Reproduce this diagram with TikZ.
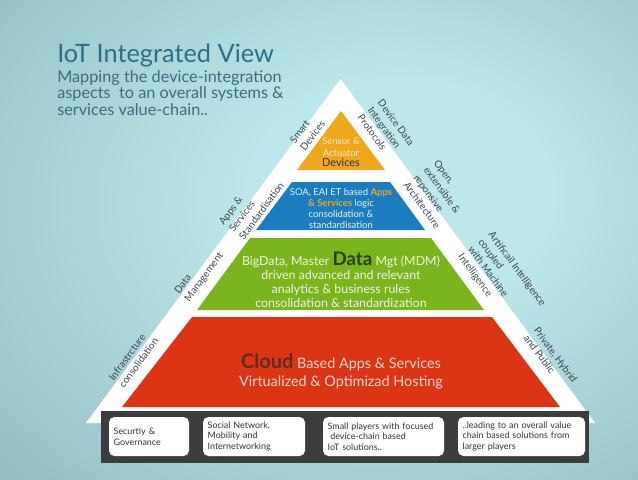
\documentclass[tikz,border=0pt]{standalone}
\usepackage{fontspec}
\setmainfont{Lato}
\hyphenpenalty=10000
\exhyphenpenalty=10000

\definecolor{bglight}{HTML}{BCE7EB}
\definecolor{bgmid}{HTML}{98C4C9}
\definecolor{bgdark}{HTML}{688F95}
\definecolor{titleblue}{HTML}{2F6E86}
\definecolor{subblue}{HTML}{3D6C7D}
\definecolor{labelgrey}{HTML}{3B4750}
\definecolor{tierorange}{HTML}{EFA71B}
\definecolor{tierblue}{HTML}{1C7CC0}
\definecolor{tiergreen}{HTML}{7AB51D}
\definecolor{tierred}{HTML}{DC3516}
\definecolor{barcolor}{HTML}{3C3C3C}

\pgfdeclareradialshading{bgglow}{\pgfpoint{8bp}{6bp}}{color(0bp)=(bglight); color(12bp)=(bglight); color(36bp)=(bgmid); color(60bp)=(bgdark)}

\tikzset{
	edgelabel/.style={font=\fontsize{7.5}{9.4}\selectfont, text=labelgrey, align=left, inner sep=0pt},
	leftlabel/.style={edgelabel, rotate=53.7, anchor=west},
	rightlabel/.style={edgelabel, rotate=-53.7, anchor=west},
	tiertext/.style={align=center, inner sep=0pt},
	infobox/.style={fill=white, rounded corners=4pt, align=left, inner xsep=3.5pt, inner ysep=0pt, minimum height=29.25pt, font=\fontsize{6.7}{7.9}\selectfont, text=black!80, anchor=center}
}

\begin{document}
\begin{tikzpicture}[x=0.75pt,y=-0.75pt]
			\shade[shading=bgglow] (0,0) rectangle (638,479);
			\useasboundingbox (0,0) rectangle (638,479);
			% heading
			\node[anchor=base west,inner sep=0pt,text=titleblue,font=\fontsize{19}{21}\selectfont] (title) at (57,62) {IoT Integrated View};
			\node[anchor=north west,inner sep=0pt,align=left,text=subblue,font=\fontsize{12.2}{12.3}\selectfont] (subtitle) at (57,70) {Mapping the device-integration\\aspects\ \ to an overall systems \&\\services value-chain..};
			% pyramid
			\fill[white] (340.5,79) -- (595,423) -- (86,423) -- cycle;
			\fill[tierorange] (341,111) -- (385,170) -- (297,170) -- cycle;
			\fill[tierblue] (292,182) -- (390,182) -- (425,230) -- (256,230) -- cycle;
			\fill[tiergreen] (250,238) -- (431,238) -- (484,310) -- (197,310) -- cycle;
			\fill[tierred] (192,317) -- (492,317) -- (560,407) -- (122,407) -- cycle;
			\node[tiertext,text=tierorange!25,font=\fontsize{7.1}{9}\selectfont] (sensor) at (341,147) {Sensor \&\\Actuator};
			\node[tiertext,text=black!80,font=\fontsize{8.2}{9}\selectfont] (devices) at (341,163) {Devices};
			\node[tiertext,text=white!90!tierblue,font=\fontsize{7.1}{8.25}\selectfont] (soa) at (341,208.5) {SOA, EAI ET based \textcolor{tierorange}{\bfseries Apps}\\\textcolor{tierorange}{\bfseries\& Services} logic\\consolidation \&\\standardisation};
			\node[tiertext,text=white!88!tiergreen,font=\fontsize{9.3}{10.5}\selectfont] (mdm) at (341,280) {BigData, Master \textcolor{tiergreen!35!black}{\fontsize{14}{10.5}\selectfont\bfseries Data} Mgt (MDM)\\driven advanced and relevant\\analytics \& business rules\\consolidation \& standardization};
			\node[tiertext,text=white!80!tierred,font=\fontsize{10.8}{13.5}\selectfont] (cloud) at (341,371) {\textcolor{tierred!40!black!80!gray}{\fontsize{15}{13.5}\selectfont\bfseries Cloud} Based Apps \& Services\\Virtualized \& Optimizad Hosting};
			% edge labels
			\node[leftlabel] (smart) at (297,146) {Smart\\Devices};
			\node[leftlabel] (appsstd) at (231,231) {Apps \&\\Services\\Standardisation};
			\node[leftlabel] (datamgt) at (182,297) {Data\\Management};
			\node[leftlabel] (infra) at (116,383) {Infrastrcture\\consolidation};
			\node[rightlabel] (protocols) at (370,108) {Device Data\\Integration\\Protocols};
			\node[rightlabel] (architecture) at (421,172) {Open,\\extensible \&\\reponsive\\Architecture};
			\node[rightlabel] (ai) at (475,244) {Artificail Intelligence\\coupled\\with Machine\\Intelligence};
			\node[rightlabel] (hosting) at (531,332) {Private, Hybrid\\and Public};
			% bottom bar
			\fill[barcolor] (101,411) rectangle (589,463);
			\node[infobox,text width=53pt] (security) at (149,436.5) {Securtiy \&\\Governance};
			\node[infobox,text width=69.5pt] (social) at (254,436.5) {Social Network,\\Mobility and\\Internetworking};
			\node[infobox,text width=83.75pt] (players) at (383.5,436.5) {Small players with focused\\\hspace*{2pt}device-chain based\\IoT solutions..};
			\node[infobox,text width=88.25pt] (valuechain) at (521.5,436.5) {..leading to an overall value\\chain based solutions from\\larger players};
		\end{tikzpicture}
\end{document}
